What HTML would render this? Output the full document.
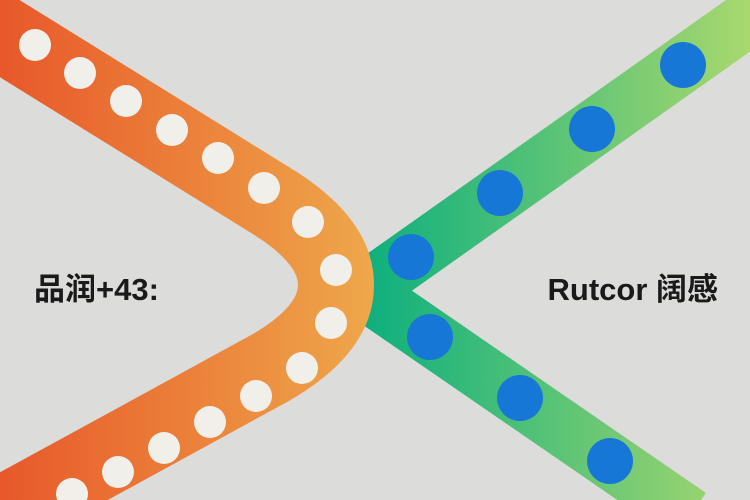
<!DOCTYPE html>
<html><head><meta charset="utf-8"><style>
html,body{margin:0;padding:0;width:750px;height:500px;overflow:hidden;background:#dcdcdb}
svg{display:block}
</style></head><body>
<svg width="750" height="500" viewBox="0 0 750 500" xmlns="http://www.w3.org/2000/svg">
<defs>
<linearGradient id="og" x1="0" y1="0" x2="375" y2="0" gradientUnits="userSpaceOnUse">
<stop offset="0" stop-color="#e8582a"/><stop offset="1" stop-color="#eea84a"/></linearGradient>
<linearGradient id="gg" x1="370" y1="0" x2="750" y2="0" gradientUnits="userSpaceOnUse">
<stop offset="0" stop-color="#0fb07e"/><stop offset="1" stop-color="#a9d86e"/></linearGradient>
</defs>
<rect width="750" height="500" fill="#dcdcdb"/>
<path d="M 790,-11 L 363,291 L 690,516" fill="none" stroke="url(#gg)" stroke-width="56" stroke-linejoin="round"/>
<path d="M -30,14 L 270,200 Q 336,240 336,285 Q 336,330 270,368 L -30,532" fill="none" stroke="url(#og)" stroke-width="76"/>
<g fill="#f0efea">
<circle cx="35" cy="45" r="16"/><circle cx="80" cy="73" r="16"/><circle cx="126" cy="101" r="16"/>
<circle cx="172" cy="130" r="16"/><circle cx="218" cy="158" r="16"/><circle cx="264" cy="188" r="16"/>
<circle cx="308" cy="222" r="16"/><circle cx="336" cy="270" r="16"/><circle cx="331" cy="323" r="16"/>
<circle cx="302" cy="368" r="16"/><circle cx="256" cy="396" r="16"/><circle cx="210" cy="422" r="16"/>
<circle cx="164" cy="448" r="16"/><circle cx="118" cy="472" r="16"/><circle cx="72" cy="494" r="16"/>
</g>
<g fill="#1677d6">
<circle cx="683" cy="65" r="23"/><circle cx="592" cy="129" r="23"/><circle cx="500" cy="193" r="23"/>
<circle cx="411" cy="257" r="23"/><circle cx="430" cy="337" r="23"/><circle cx="520" cy="398" r="23"/>
<circle cx="610" cy="461" r="23"/>
</g>
<text x="34" y="300" font-family="Liberation Sans, Noto Sans CJK SC, sans-serif" font-size="31" font-weight="bold" fill="#1a1a1a">品润+43:</text>
<text x="718" y="300" text-anchor="end" font-family="Liberation Sans, Noto Sans CJK SC, sans-serif" font-size="31" font-weight="bold" fill="#1a1a1a">Rutcor 阔感</text>
</svg>
</body></html>
